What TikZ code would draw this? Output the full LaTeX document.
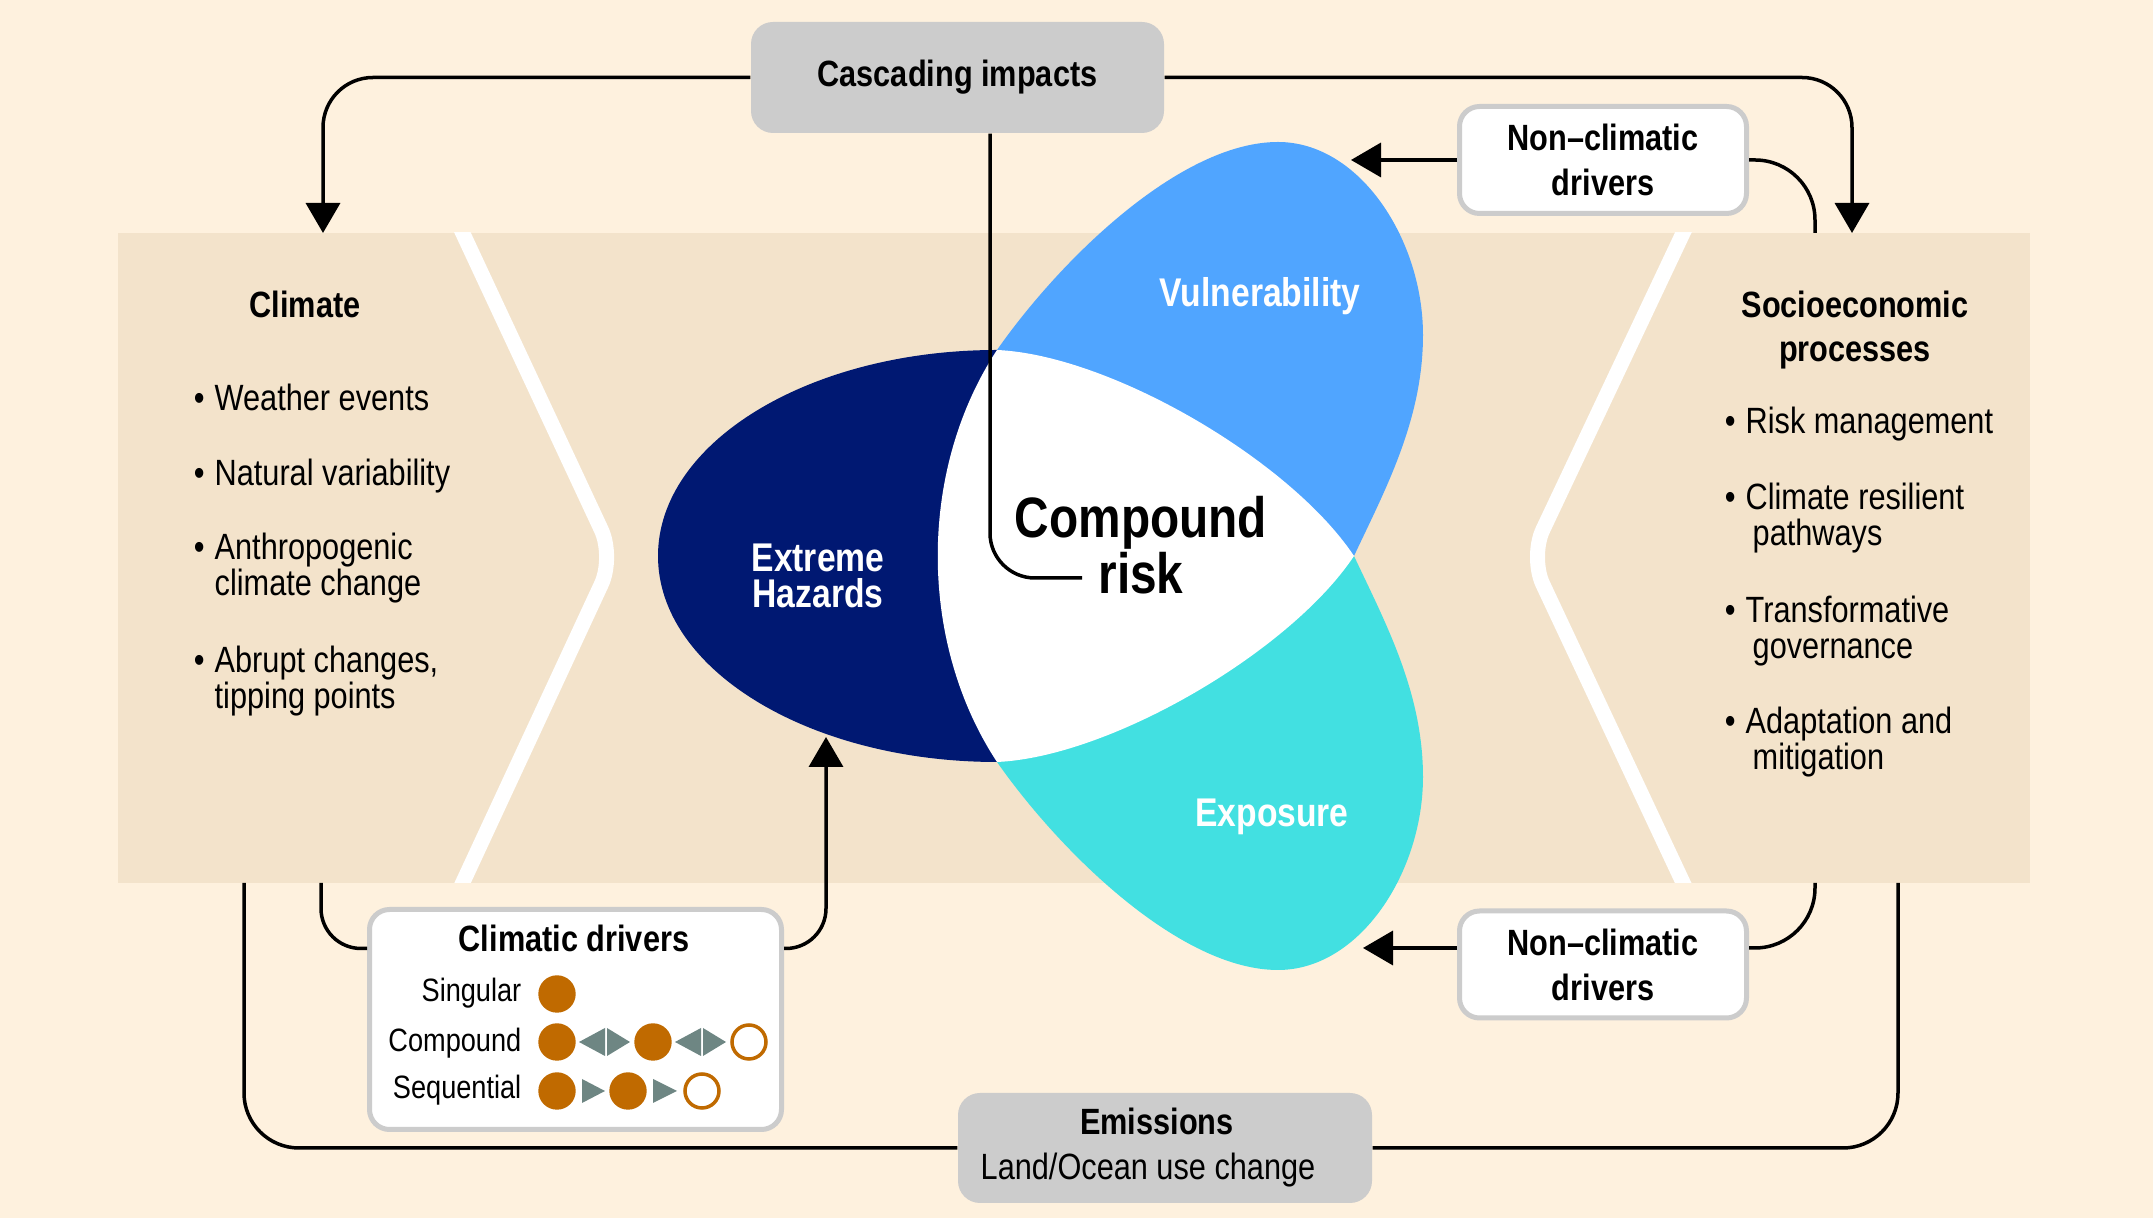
\documentclass[tikz,border=0pt]{standalone}
\usepackage{fontspec}
\setmainfont{Liberation Sans}[FakeStretch=0.84]
\usetikzlibrary{arrows.meta}

\definecolor{bgcream}{RGB}{254,241,222}
\definecolor{bandbeige}{RGB}{243,227,203}
\definecolor{hazardnavy}{RGB}{0,24,114}
\definecolor{vulnblue}{RGB}{80,165,255}
\definecolor{expocyan}{RGB}{66,224,225}
\definecolor{boxgray}{RGB}{204,204,204}
\definecolor{drvorange}{RGB}{192,106,0}
\definecolor{drvgray}{RGB}{110,134,131}

\newcommand\itemsz{\fontsize{10.4}{10.5}\selectfont}
\newcommand\rowsz{\fontsize{9.2}{10}\selectfont}
\newcommand\labsz{\fontsize{10.4}{12.8}\selectfont\bfseries}
\newcommand\petalsz{\fontsize{11.4}{10.5}\selectfont\bfseries}
\newcommand\risksz{\fontsize{16.2}{15.1}\selectfont\bfseries}
\newcommand\bul{\llap{\textbullet\hspace{1mm}}}

\tikzset{
  conn/.style={line width=0.35mm, black},
  arrowhd/.style={-{Triangle[length=3mm,width=3.4mm]}},
  chevron/.style={white, line width=1.5mm, rounded corners=3mm},
  graybox/.style={fill=boxgray, rounded corners=2.2mm, inner sep=0pt, align=center, font=\labsz},
  whitebox/.style={fill=white, draw=boxgray, line width=0.5mm, rounded corners=2mm, inner sep=0pt, align=center, font=\labsz},
  headtxt/.style={anchor=base, align=center, inner sep=0pt, font=\labsz},
  itemtxt/.style={anchor=base west, align=left, inner sep=0pt, font=\itemsz},
  rowtxt/.style={anchor=base east, inner sep=0pt, font=\rowsz},
  petal/.style={anchor=base, align=center, inner sep=0pt, white, font=\petalsz}
}

\begin{document}
\begin{tikzpicture}[x=0.1mm,y=-0.1mm]

  \useasboundingbox (0,0) rectangle (2153,1218);
  \fill[bgcream] (0,0) rectangle (2153,1218);

  % band and the two chevrons
  \fill[bandbeige] (118,233) rectangle (2030,883);
  \begin{scope}
    \clip (118,233) rectangle (2030,883);
    \draw[chevron] (444,193) -- (614,557) -- (444,923);
    \draw[chevron] (1702,193) -- (1530,557) -- (1702,923);
  \end{scope}

  % petals
  \fill[hazardnavy] (997,350) .. controls (810,350) and (658,442) .. (658,556)
    .. controls (658,670) and (810,762) .. (997,762) -- cycle;
  \fill[vulnblue] (997,350) .. controls (1060,260) and (1180,142) .. (1278,142)
    .. controls (1360,142) and (1423,240) .. (1423,335)
    .. controls (1423,420) and (1385,490) .. (1354,556) -- cycle;
  \fill[expocyan] (997,762) .. controls (1060,852) and (1180,970) .. (1278,970)
    .. controls (1360,970) and (1423,872) .. (1423,777)
    .. controls (1423,692) and (1385,622) .. (1354,556) -- cycle;
  \fill[white] (997,350) .. controls (1110,355) and (1290,460) .. (1354,556)
    .. controls (1290,652) and (1110,757) .. (997,762)
    .. controls (918,642) and (918,470) .. (997,350) -- cycle;

  \node[petal] (vuln) at (1260,307) {Vulnerability};
  \node[petal] (expo) at (1272,827) {Exposure};
  \node[petal] (haza) at (818,608) {Extreme\\Hazards};
  \node[anchor=base, align=center, inner sep=0pt, font=\risksz] (risk) at (1141,594) {Compound\\risk};

  % climate side
  \node[headtxt] (clim) at (305,318) {Climate};
  \node[itemtxt] (clima) at (214,411) {\bul Weather events};
  \node[itemtxt] (climb) at (214,486) {\bul Natural variability};
  \node[itemtxt] (climc) at (214,596) {\bul Anthropogenic\\climate change};
  \node[itemtxt] (climd) at (214,709) {\bul Abrupt changes,\\tipping points};

  % socioeconomic side
  \node[headtxt] (soci) at (1855,362) {Socioeconomic\\processes};
  \node[itemtxt] (socia) at (1745,434) {\bul Risk management};
  \node[itemtxt] (socib) at (1745,546) {\bul Climate resilient\\\hspace*{0.7mm}pathways};
  \node[itemtxt] (socic) at (1745,659) {\bul Transformative\\\hspace*{0.7mm}governance};
  \node[itemtxt] (socid) at (1745,770) {\bul Adaptation and\\\hspace*{0.7mm}mitigation};

  % boxes
  \node[graybox, minimum width=41.3mm, minimum height=11.1mm] (casc) at (957.5,77.5) {Cascading impacts};
  \node[whitebox, minimum width=28.7mm, minimum height=10.7mm] (nctop) at (1603,160) {Non--climatic\\drivers};
  \node[whitebox, minimum width=28.7mm, minimum height=10.7mm] (ncbot) at (1603,964.5) {Non--climatic\\drivers};
  \node[whitebox, minimum width=41.2mm, minimum height=22mm] (cdbox) at (575.5,1019.5) {};
  \node[graybox, minimum width=41.4mm, minimum height=11mm] (emis) at (1165,1148) {Emissions\hspace*{1.6mm}\\\mdseries Land/Ocean use change\hspace*{3.4mm}};

  % climatic drivers legend
  \node[headtxt] (cdtitle) at (574,952) {Climatic drivers};
  \node[rowtxt] (sing) at (522,1002) {Singular};
  \node[rowtxt] (comp) at (522,1052) {Compound};
  \node[rowtxt] (sequ) at (522,1099) {Sequential};

  \fill[drvorange] (557,994) circle(18.7);

  \fill[drvorange] (557,1042) circle(18.7);
  \fill[drvgray] (579,1042) -- (605,1028) -- (605,1056) -- cycle;
  \fill[drvgray] (630,1042) -- (607,1028) -- (607,1056) -- cycle;
  \fill[drvorange] (653,1042) circle(18.7);
  \fill[drvgray] (675,1042) -- (701,1028) -- (701,1056) -- cycle;
  \fill[drvgray] (726,1042) -- (703,1028) -- (703,1056) -- cycle;
  \draw[drvorange, line width=0.35mm, fill=white] (749,1042) circle(17);

  \fill[drvorange] (557,1091) circle(18.7);
  \fill[drvgray] (605,1091) -- (582,1079) -- (582,1103) -- cycle;
  \fill[drvorange] (628,1091) circle(18.7);
  \fill[drvgray] (677,1091) -- (653,1079) -- (653,1103) -- cycle;
  \draw[drvorange, line width=0.35mm, fill=white] (702,1091) circle(17);

  % connectors
  \coordinate (climtop) at (323,233);
  \coordinate (socitop) at (1852,233);
  \coordinate (cascbend) at (990,578);
  \coordinate (cascend) at (1082,578);
  \coordinate (vulntip) at (1351,160);
  \coordinate (expotip) at (1363,948);
  \coordinate (hazatip) at (826,737);
  \coordinate (socilinka) at (1815,233);
  \coordinate (socilinkb) at (1815,883);
  \coordinate (climlink) at (321,883);
  \coordinate (emislinka) at (244,883);
  \coordinate (emislinkb) at (1898,883);

  \draw[conn, arrowhd, rounded corners=5mm] (casc.west) -| (climtop);
  \draw[conn, arrowhd, rounded corners=5mm] (casc.east) -| (socitop);
  \draw[conn, rounded corners=4.5mm] (casc.south -| cascbend) |- (cascend);

  \draw[conn, arrowhd] (nctop.west |- vulntip) -- (vulntip);
  \draw[conn, rounded corners=6mm] (nctop.east |- vulntip) -| (socilinka);
  \draw[conn, arrowhd] (ncbot.west |- expotip) -- (expotip);
  \draw[conn, rounded corners=6mm] (ncbot.east |- expotip) -| (socilinkb);

  \draw[conn, rounded corners=4mm] (climlink) |- ([yshift=7.1mm]cdbox.west);
  \draw[conn, arrowhd, rounded corners=4mm] ([yshift=7.1mm]cdbox.east) -| (hazatip);

  \draw[conn, rounded corners=5.5mm] (emis.west) -| (emislinka);
  \draw[conn, rounded corners=5.5mm] (emis.east) -| (emislinkb);

\end{tikzpicture}
\end{document}
